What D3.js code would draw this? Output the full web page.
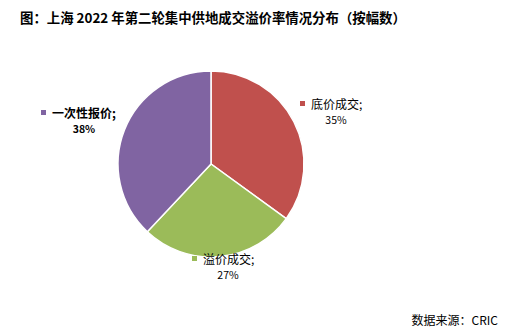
<!DOCTYPE html>
<html lang="zh">
<head>
<meta charset="UTF-8">
<style>
  body { margin: 0; background: #fff; }
  svg text { font-family: "Noto Sans CJK SC", "Noto Sans", sans-serif; fill: #000; }
</style>
</head>
<body>
<div id="chart"></div>
<script src="https://d3js.org/d3.v7.min.js"></script>
<script>
const categories = ["底价成交", "溢价成交", "一次性报价"];
const shares = [35, 27, 38];
const colors = ["#C0504D", "#9BBB59", "#8064A2"];
// label anchor positions (text left x, baseline y) per slice
const labelPos = [[311, 109], [203, 264], [52, 118]];
const labelBold = [false, false, true];

const W = 508, H = 336;
const cx = 211, cy = 164, r = 93;

const svg = d3.select("#chart").append("svg")
  .attr("width", W).attr("height", H);

svg.append("text")
  .attr("x", 20).attr("y", 23)
  .attr("font-size", 13.4).attr("font-weight", "bold")
  .text("图：上海 2022 年第二轮集中供地成交溢价率情况分布（按幅数）");

const pie = d3.pie().sort(null).value(d => d)(shares);
const arc = d3.arc().innerRadius(0).outerRadius(r);

const g = svg.append("g").attr("transform", `translate(${cx},${cy})`);
g.selectAll("path")
  .data(pie)
  .enter().append("path")
  .attr("d", arc)
  .attr("fill", (d, i) => colors[i])
  .attr("stroke", "#fff")
  .attr("stroke-width", 1.5);

const labels = svg.selectAll(".lbl")
  .data(categories)
  .enter().append("g")
  .attr("class", "lbl");

labels.append("rect")
  .attr("x", (d, i) => labelPos[i][0] - 11)
  .attr("y", (d, i) => labelPos[i][1] - 8)
  .attr("width", 5).attr("height", 5)
  .attr("fill", (d, i) => colors[i]);

labels.append("text")
  .attr("x", (d, i) => labelPos[i][0])
  .attr("y", (d, i) => labelPos[i][1])
  .attr("font-size", 12)
  .attr("font-weight", (d, i) => labelBold[i] ? "bold" : "normal")
  .text(d => d + ";");

labels.append("text")
  .attr("x", (d, i) => labelPos[i][0] + (labelBold[i] ? 32 : 25))
  .attr("y", (d, i) => labelPos[i][1] + 15)
  .attr("text-anchor", "middle")
  .attr("font-size", 10.5)
  .attr("font-weight", (d, i) => labelBold[i] ? "bold" : "normal")
  .text((d, i) => shares[i] + "%");

svg.append("text")
  .attr("x", 498).attr("y", 325)
  .attr("text-anchor", "end")
  .attr("font-size", 12)
  .text("数据来源：CRIC");
</script>
</body>
</html>
